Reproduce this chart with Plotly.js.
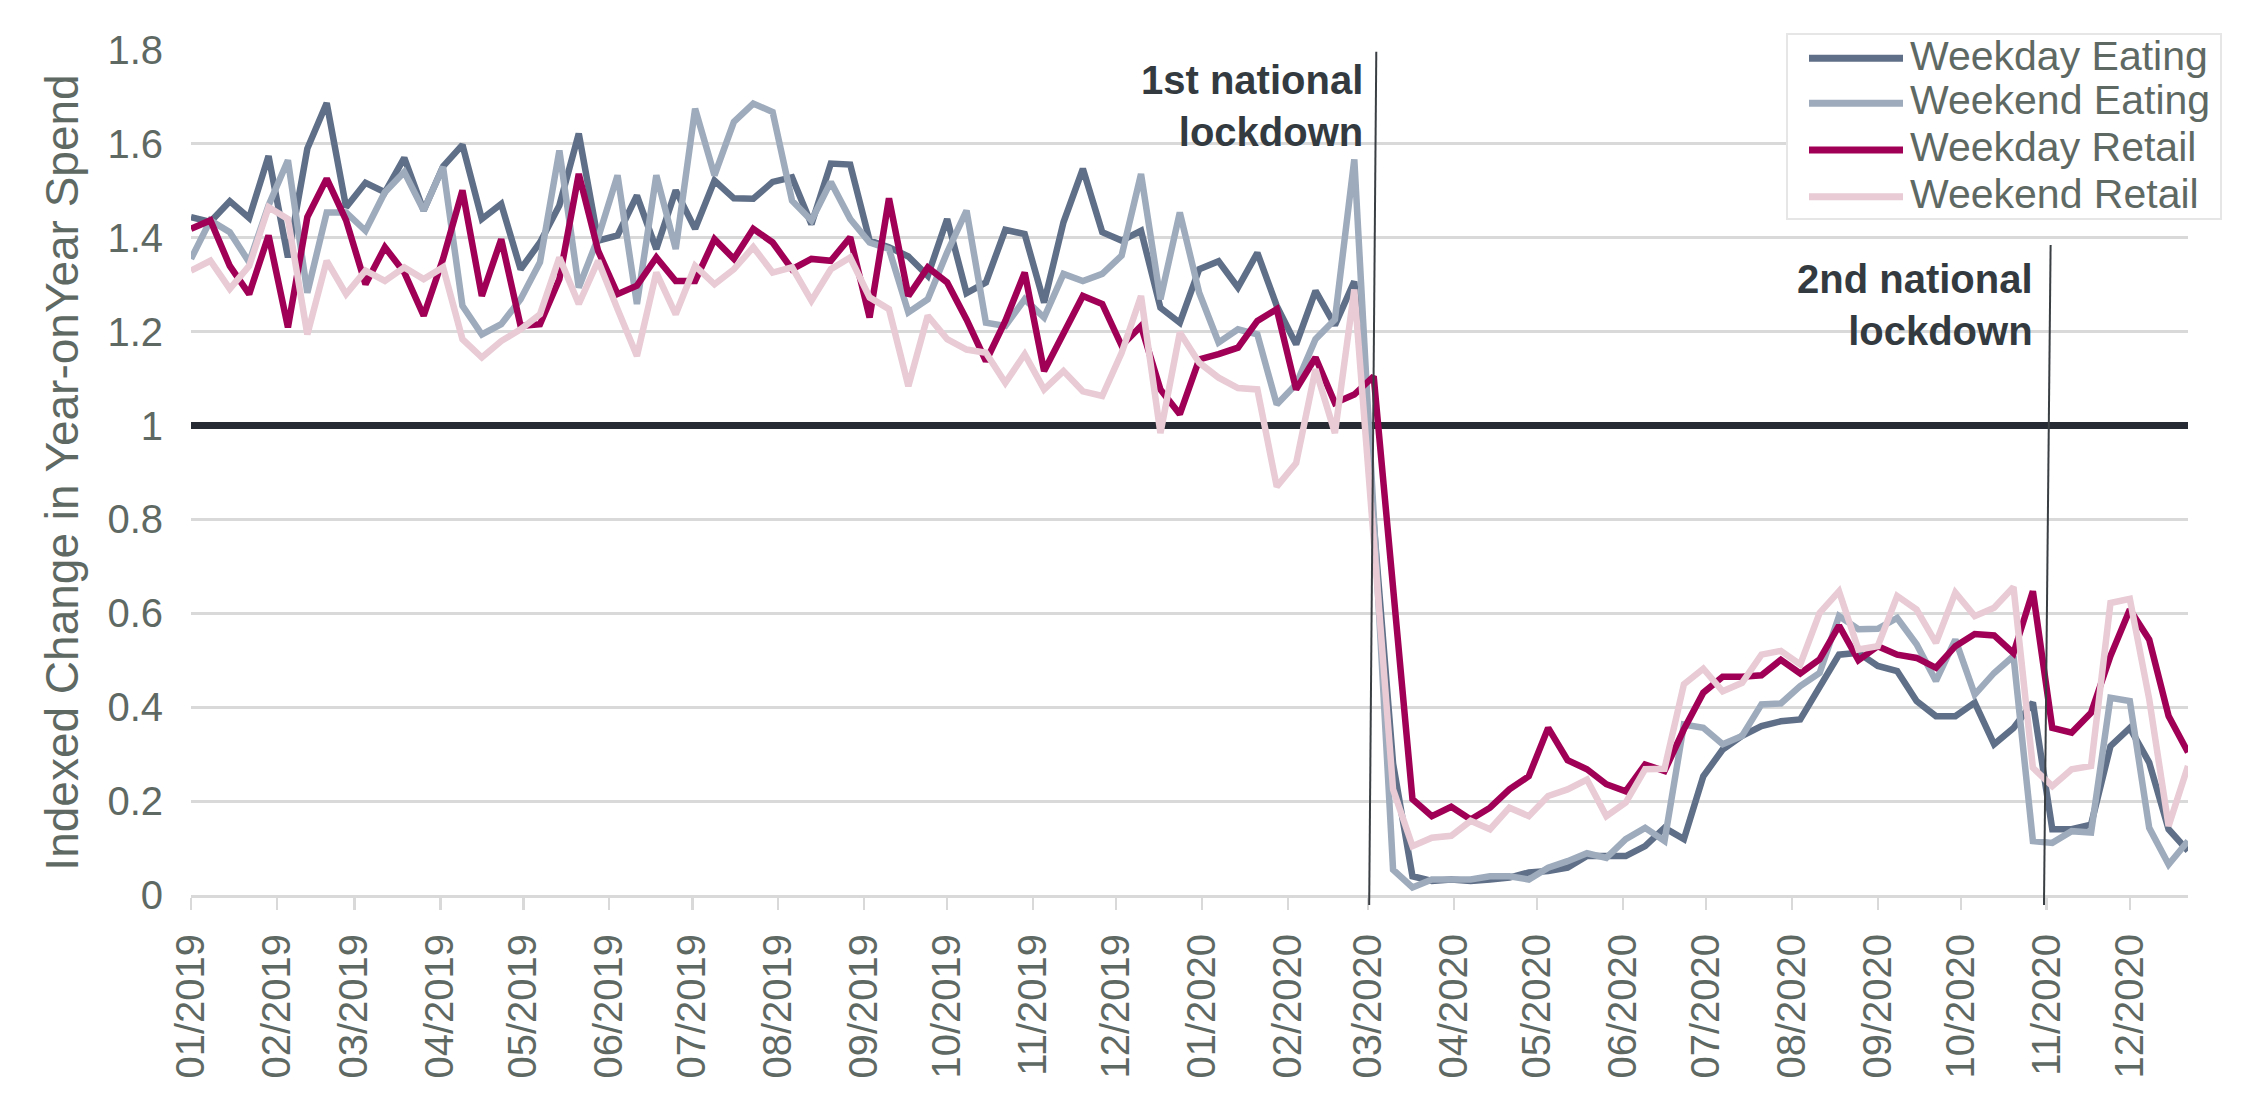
<!DOCTYPE html>
<html>
<head>
<meta charset="utf-8">
<script src="https://cdn.plot.ly/plotly-3.0.1.min.js"></script>
<style>
  html, body { margin: 0; padding: 0; background: #ffffff; }
  #chart { width: 2266px; height: 1095px; }
</style>
</head>
<body>
<div id="chart"></div>
<script>
// ---- Data (weekly) ----
const weekDates = [
  '2019-01-01','2019-01-08','2019-01-15','2019-01-22','2019-01-29',
  '2019-02-05','2019-02-12','2019-02-19','2019-02-26',
  '2019-03-05','2019-03-12','2019-03-19','2019-03-26',
  '2019-04-02','2019-04-09','2019-04-16','2019-04-23','2019-04-30',
  '2019-05-07','2019-05-14','2019-05-21','2019-05-28',
  '2019-06-04','2019-06-11','2019-06-18','2019-06-25',
  '2019-07-02','2019-07-09','2019-07-16','2019-07-23','2019-07-30',
  '2019-08-06','2019-08-13','2019-08-20','2019-08-27',
  '2019-09-03','2019-09-10','2019-09-17','2019-09-24',
  '2019-10-01','2019-10-08','2019-10-15','2019-10-22','2019-10-29',
  '2019-11-05','2019-11-12','2019-11-19','2019-11-26',
  '2019-12-03','2019-12-10','2019-12-17','2019-12-24','2019-12-31',
  '2020-01-07','2020-01-14','2020-01-21','2020-01-28',
  '2020-02-04','2020-02-11','2020-02-18','2020-02-25',
  '2020-03-03','2020-03-10','2020-03-17','2020-03-24','2020-03-31',
  '2020-04-07','2020-04-14','2020-04-21','2020-04-28',
  '2020-05-05','2020-05-12','2020-05-19','2020-05-26',
  '2020-06-02','2020-06-09','2020-06-16','2020-06-23','2020-06-30',
  '2020-07-07','2020-07-14','2020-07-21','2020-07-28',
  '2020-08-04','2020-08-11','2020-08-18','2020-08-25',
  '2020-09-01','2020-09-08','2020-09-15','2020-09-22','2020-09-29',
  '2020-10-06','2020-10-13','2020-10-20','2020-10-27',
  '2020-11-03','2020-11-10','2020-11-17','2020-11-24',
  '2020-12-01','2020-12-08','2020-12-15','2020-12-22'
];

const weekdayEating = [
  1.444,1.434,1.478,1.442,1.574,1.358,1.590,1.687,1.465,1.517,
  1.497,1.570,1.458,1.552,1.598,1.440,1.472,1.333,1.390,1.469,
  1.622,1.394,1.405,1.490,1.376,1.501,1.419,1.522,1.484,1.483,
  1.519,1.529,1.429,1.558,1.556,1.394,1.380,1.360,1.319,1.440,
  1.282,1.305,1.417,1.408,1.262,1.433,1.547,1.412,1.394,1.415,
  1.251,1.219,1.333,1.350,1.294,1.368,1.255,1.173,1.287,1.214,
  1.307,0.800,0.280,0.040,0.030,0.033,0.030,0.033,0.037,0.048,
  0.051,0.058,0.083,0.083,0.083,0.104,0.143,0.119,0.253,0.310,
  0.339,0.360,0.370,0.374,0.441,0.512,0.516,0.488,0.477,0.413,
  0.381,0.381,0.410,0.321,0.356,0.410,0.140,0.140,0.150,0.317,
  0.356,0.282,0.140,0.094
];

const weekendEating = [
  1.355,1.437,1.412,1.348,1.469,1.565,1.283,1.454,1.454,1.415,
  1.497,1.540,1.458,1.551,1.255,1.194,1.216,1.269,1.348,1.586,
  1.294,1.400,1.533,1.259,1.533,1.376,1.675,1.533,1.647,1.686,
  1.668,1.479,1.437,1.519,1.440,1.390,1.376,1.241,1.269,1.369,
  1.458,1.219,1.212,1.269,1.230,1.323,1.308,1.323,1.362,1.536,
  1.269,1.454,1.283,1.177,1.205,1.194,1.045,1.088,1.184,1.226,
  1.567,0.830,0.054,0.016,0.033,0.033,0.033,0.040,0.040,0.033,
  0.058,0.072,0.089,0.079,0.119,0.143,0.115,0.363,0.356,0.321,
  0.339,0.406,0.408,0.445,0.473,0.594,0.566,0.567,0.590,0.534,
  0.456,0.544,0.427,0.473,0.509,0.115,0.111,0.136,0.133,0.420,
  0.413,0.143,0.065,0.115
];

const weekdayRetail = [
  1.419,1.437,1.340,1.280,1.405,1.209,1.444,1.526,1.437,1.301,
  1.380,1.326,1.234,1.355,1.501,1.276,1.397,1.212,1.216,1.312,
  1.536,1.372,1.280,1.298,1.358,1.308,1.308,1.397,1.355,1.419,
  1.390,1.333,1.355,1.351,1.401,1.230,1.484,1.276,1.337,1.305,
  1.226,1.137,1.223,1.326,1.116,1.198,1.276,1.259,1.170,1.212,
  1.077,1.024,1.141,1.152,1.166,1.223,1.248,1.077,1.145,1.048,
  1.066,1.105,0.650,0.204,0.168,0.188,0.161,0.186,0.225,0.253,
  0.356,0.287,0.268,0.236,0.221,0.278,0.264,0.353,0.431,0.465,
  0.465,0.468,0.501,0.472,0.502,0.574,0.500,0.530,0.512,0.505,
  0.484,0.530,0.556,0.553,0.515,0.647,0.356,0.346,0.388,0.509,
  0.608,0.544,0.381,0.304
];

const weekendRetail = [
  1.330,1.351,1.291,1.340,1.465,1.440,1.194,1.351,1.280,1.330,
  1.308,1.337,1.312,1.337,1.184,1.145,1.180,1.205,1.237,1.358,
  1.259,1.351,1.248,1.148,1.326,1.237,1.340,1.301,1.333,1.380,
  1.326,1.337,1.266,1.333,1.358,1.273,1.248,1.084,1.234,1.184,
  1.162,1.155,1.091,1.152,1.077,1.116,1.073,1.063,1.155,1.276,
  0.984,1.198,1.134,1.102,1.080,1.077,0.870,0.920,1.120,0.984,
  1.290,0.760,0.225,0.104,0.122,0.126,0.158,0.140,0.186,0.168,
  0.211,0.225,0.246,0.168,0.197,0.268,0.269,0.449,0.482,0.434,
  0.452,0.512,0.520,0.491,0.601,0.647,0.523,0.530,0.637,0.608,
  0.537,0.644,0.594,0.612,0.656,0.271,0.232,0.268,0.275,0.622,
  0.631,0.417,0.147,0.275
];

const seriesNames = ['Weekday Eating', 'Weekend Eating', 'Weekday Retail', 'Weekend Retail'];
const seriesColors = ['#5f6f87', '#9eabbc', '#a00055', '#e8cbd4'];
const baselineValues = [1, 1];
const baselineDates = [weekDates[0], weekDates[weekDates.length - 1]];

const yTickVals = [0, 0.2, 0.4, 0.6, 0.8, 1, 1.2, 1.4, 1.6, 1.8];
const yTickText = ['0', '0.2', '0.4', '0.6', '0.8', '1', '1.2', '1.4', '1.6', '1.8'];

const lockdownLabels = ['1st national<br>lockdown', '2nd national<br>lockdown'];

// ---- Styling ----
const FONT = 'Liberation Sans, Arial, Helvetica, sans-serif';
const GRAY = '#5f6964';
const DARK = '#343b40';
const GRID = '#d9d9d9';

const W = 2266, H = 1095;
const M = { l: 191, r: 78, t: 50, b: 200 };
const PW = W - M.l - M.r, PH = H - M.t - M.b;
const px2x = px => (px - M.l) / PW;
const py2y = py => (H - M.b - py) / PH;

const seriesData = [weekdayEating, weekendEating, weekdayRetail, weekendRetail];

const traces = [{
  x: baselineDates, y: baselineValues, type: 'scatter', mode: 'lines',
  line: { color: '#262b33', width: 7 }, showlegend: false, hoverinfo: 'skip'
}];
seriesData.forEach((vals, k) => {
  traces.push({
    x: weekDates, y: vals, type: 'scatter', mode: 'lines', name: seriesNames[k],
    line: { color: seriesColors[k], width: 6.5 }, showlegend: false
  });
});

// Legend built from shapes + annotations
const legendRowsPx = [58.3, 103.3, 150, 196.7];
const shapes = [
  { type: 'rect', xref: 'paper', yref: 'paper', x0: px2x(1787), x1: px2x(2221),
    y0: py2y(219), y1: py2y(34), line: { color: '#e6e6e6', width: 2 }, fillcolor: '#ffffff', layer: 'above' },
  // lockdown markers
  { type: 'line', xref: 'x', yref: 'paper', x0: '2020-03-01 09:00', x1: '2020-03-03 22:30',
    y0: py2y(905), y1: py2y(51.7), line: { color: '#3a3f44', width: 2 }, layer: 'above' },
  { type: 'line', xref: 'x', yref: 'paper', x0: '2020-10-31 00:00', x1: '2020-11-02 09:30',
    y0: py2y(905), y1: py2y(245), line: { color: '#3a3f44', width: 2 }, layer: 'above' }
];
const annotations = [
  { xref: 'paper', yref: 'paper', x: px2x(1365), y: py2y(55.5), xanchor: 'right', yanchor: 'top',
    text: lockdownLabels[0], align: 'right', showarrow: false,
    font: { family: FONT, size: 40, color: DARK, weight: 700 } },
  { xref: 'paper', yref: 'paper', x: px2x(2035), y: py2y(254.5), xanchor: 'right', yanchor: 'top',
    text: lockdownLabels[1], align: 'right', showarrow: false,
    font: { family: FONT, size: 40, color: DARK, weight: 700 } }
];
seriesNames.forEach((nm, k) => {
  const ry = legendRowsPx[k];
  shapes.push({ type: 'line', xref: 'paper', yref: 'paper', x0: px2x(1809), x1: px2x(1903),
    y0: py2y(ry), y1: py2y(ry), line: { color: seriesColors[k], width: 7 }, layer: 'above' });
  annotations.push({ xref: 'paper', yref: 'paper', x: px2x(1908), y: py2y(ry - 2.8),
    xanchor: 'left', yanchor: 'middle', text: nm, showarrow: false,
    font: { family: FONT, size: 41, color: GRAY } });
});

const layout = {
  width: W, height: H,
  margin: M,
  paper_bgcolor: '#ffffff', plot_bgcolor: '#ffffff',
  font: { family: FONT, color: GRAY },
  showlegend: false,
  xaxis: {
    type: 'date',
    range: [weekDates[0], weekDates[weekDates.length - 1]],
    tickmode: 'linear', tick0: '2019-01-01', dtick: 'M1',
    tickformat: '%m/%Y', tickangle: -90,
    ticks: 'outside', ticklen: 12, tickwidth: 2.5, tickcolor: GRID,
    showline: true, linecolor: GRID, linewidth: 3,
    showgrid: false, zeroline: false,
    tickfont: { family: FONT, size: 40, color: GRAY },
    ticklabelstandoff: 8
  },
  yaxis: {
    range: [0, 1.8],
    tickmode: 'array', tickvals: yTickVals, ticktext: yTickText,
    showgrid: true, gridcolor: GRID, gridwidth: 3,
    zeroline: false, showline: false, ticks: '',
    tickfont: { family: FONT, size: 40, color: GRAY },
    ticklabelstandoff: 27,
    title: { text: 'Indexed Change in Year-onYear Spend', font: { family: FONT, size: 46, color: GRAY }, standoff: 14 }
  },
  shapes: shapes,
  annotations: annotations
};

Plotly.newPlot('chart', traces, layout, { displayModeBar: false, staticPlot: true });
</script>
</body>
</html>
